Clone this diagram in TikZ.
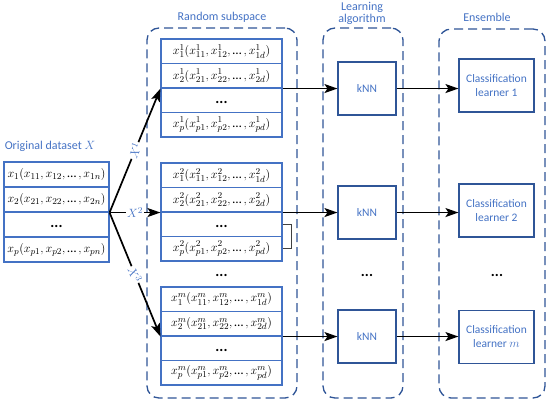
\documentclass[tikz,border=0pt]{standalone}
\usepackage[no-math]{fontspec}
\setmainfont{Carlito}
\usetikzlibrary{arrows.meta}
\definecolor{tblue}{RGB}{68,114,196}
\definecolor{dblue}{RGB}{47,85,151}
\newcommand\tdots{\mathinner{\mbox{…}}}
\begin{document}
\begin{tikzpicture}[x=1pt,y=-1pt,
 row/.style={draw=tblue, line width=1.1pt, minimum width=121pt, minimum height=24.5pt, inner sep=0pt, font=\fontsize{13}{14}\selectfont},
 orow/.style={row, minimum width=105pt, minimum height=25pt},
 dashbox/.style={draw=dblue, line width=1.3pt, dash pattern=on 9pt off 5pt, rounded corners=12pt, inner sep=0pt},
 procbox/.style={draw=dblue, line width=1.1pt, minimum width=58pt, minimum height=53pt, inner sep=0pt, text=tblue, font=\fontsize{11.5}{14}\selectfont, align=center},
 learnbox/.style={procbox, minimum width=75pt},
 title/.style={text=tblue, font=\fontsize{12}{12}\selectfont, align=center},
 arr/.style={line width=1.7pt, -{Stealth[length=13pt,width=9pt,inset=3pt]}},
 xlab/.style={text=tblue, fill=white, inner sep=1pt, font=\fontsize{12.5}{13}\selectfont},
 dots/.style={font=\fontsize{15}{15}\selectfont\bfseries}]
\useasboundingbox (0,0) rectangle (550,403);

% dashed group boxes
\node[dashbox, minimum width=150pt, minimum height=370pt] (rs) at (222,213) {};
\node[dashbox, minimum width=80pt, minimum height=370pt] (la) at (363,213) {};
\node[dashbox, minimum width=106pt, minimum height=369pt] (en) at (492,213.5) {};

\node[title] (trs) at (222,17) {Random subspace};
\node[title] (tla) at (362,13) {Learning\\algorithm};
\node[title] (ten) at (487,17) {Ensemble};
\node[title] (tod) at (50,146) {Original dataset $X$};

% original dataset
\node[orow] (o1) at (56.5,174.5) {$x_1(x_{11},x_{12},\tdots,x_{1n})$};
\node[orow] (o2) at (56.5,199.5) {$x_2(x_{21},x_{22},\tdots,x_{2n})$};
\node[orow] (o3) at (56.5,224.5) {\strut\textbf{\fontsize{15}{15}\selectfont ...}};
\node[orow] (o4) at (56.5,249.5) {$x_p(x_{p1},x_{p2},\tdots,x_{pn})$};

% subspace table 1
\node[row] (t1r1) at (221.5,51.25) {$x_1^1(x_{11}^1,x_{12}^1,\tdots,x_{1d}^1)$};
\node[row] (t1r2) at (221.5,75.75) {$x_2^1(x_{21}^1,x_{22}^1,\tdots,x_{2d}^1)$};
\node[row] (t1r3) at (221.5,100.25) {\strut\textbf{\fontsize{15}{15}\selectfont ...}};
\node[row] (t1r4) at (221.5,124.75) {$x_p^1\bigl(x_{p1}^1,x_{p2}^1,\tdots,x_{pd}^1\bigr)$};

% subspace table 2
\node[row] (t2r1) at (221.5,175.25) {$x_1^2(x_{11}^2,x_{12}^2,\tdots,x_{1d}^2)$};
\node[row] (t2r2) at (221.5,199.75) {$x_2^2(x_{21}^2,x_{22}^2,\tdots,x_{2d}^2)$};
\node[row] (t2r3) at (221.5,224.25) {\strut\textbf{\fontsize{15}{15}\selectfont ...}};
\node[row] (t2r4) at (221.5,248.75) {$x_p^2\bigl(x_{p1}^2,x_{p2}^2,\tdots,x_{pd}^2\bigr)$};
\draw[black!75, line width=0.8pt] (t2r3.east) -- ++(9,0) |- (t2r4.east);

% subspace table 3
\node[row] (t3r1) at (221.5,299.25) {$x_1^m(x_{11}^m,x_{12}^m,\tdots,x_{1d}^m)$};
\node[row] (t3r2) at (221.5,323.75) {$x_2^m(x_{21}^m,x_{22}^m,\tdots,x_{2d}^m)$};
\node[row] (t3r3) at (221.5,348.25) {\strut\textbf{\fontsize{15}{15}\selectfont ...}};
\node[row] (t3r4) at (221.5,372.75) {$x_p^m\bigl(x_{p1}^m,x_{p2}^m,\tdots,x_{pd}^m\bigr)$};

% kNN and learners
\node[procbox] (k1) at (367,88.5) {kNN};
\node[procbox] (k2) at (367,212.5) {kNN};
\node[procbox] (k3) at (367,336.5) {kNN};
\node[learnbox] (l1) at (496.5,85.5) {Classification\\learner 1};
\node[learnbox] (l2) at (496.5,210.5) {Classification\\learner 2};
\node[learnbox] (l3) at (496.5,337) {Classification\\learner $m$};

% ellipses
\node[dots] (d1) at (221.5,274) {\strut...};
\node[dots] (d2) at (367,274) {\strut...};
\node[dots] (d3) at (497,274) {\strut...};

% input arrows
\coordinate (O) at (o2.south east);
\draw[arr] (O) -- node[xlab, sloped] {$X^1$} (t1r2.south west);
\draw[arr] (O) -- node[xlab] {$X^2$} (t2r2.south west);
\draw[arr] (O) -- node[xlab, sloped] {$X^3$} (t3r2.south west);

% subspace to kNN
\draw[arr] (t1r2.south east) -- (t1r2.south east -| k1.west);
\draw[arr] (t2r2.south east) -- (t2r2.south east -| k2.west);
\draw[arr] (t3r2.south east) -- (t3r2.south east -| k3.west);

% kNN to learners
\draw[arr] (t1r2.south -| k1.east) -- (t1r2.south -| l1.west);
\draw[arr] (t2r2.south -| k2.east) -- (t2r2.south -| l2.west);
\draw[arr] (t3r2.south -| k3.east) -- (t3r2.south -| l3.west);
\end{tikzpicture}
\end{document}
